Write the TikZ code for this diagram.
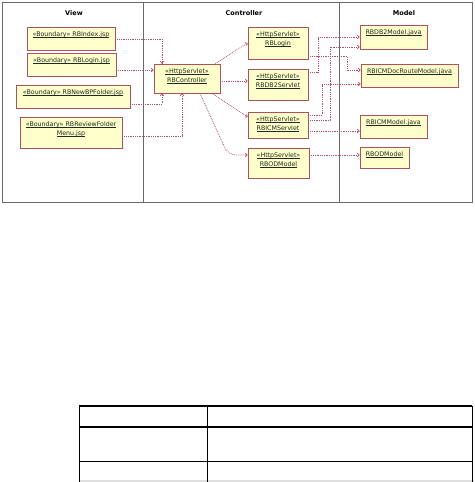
\documentclass[tikz,border=0pt]{standalone}
\usepackage{fontspec}
\setmainfont{DejaVu Sans}
\usetikzlibrary{arrows.meta}
\definecolor{boxfill}{HTML}{FFFFCC}
\definecolor{boxline}{HTML}{B0505E}
\definecolor{depline}{HTML}{B4506E}
\definecolor{umlink}{HTML}{1E2A1E}
\definecolor{frameline}{HTML}{6A6A6A}
\newcommand{\umlu}[1]{\setbox0\hbox{#1}\rlap{\raisebox{-1pt}{\rule{\wd0}{0.45pt}}}\box0}

\begin{document}
\begin{tikzpicture}[x=1pt, y=-1pt,
    umlbox/.style={draw=boxline, fill=boxfill, line width=0.8pt, inner sep=0pt,
        path picture={\fill (path picture bounding box.north west) -- ++(3pt,0) -- ++(-3pt,-3pt) -- cycle;}},
    umltext/.style={font=\fontsize{6.3}{9.5}\selectfont, text=umlink, align=center, inner sep=4.5pt},
    dep/.style={draw=depline, densely dotted, line width=0.8pt, -{To[length=2.5pt,width=4pt]}},
    header/.style={font=\fontsize{6.5}{8}\selectfont\bfseries}]
    \useasboundingbox (0,0) rectangle (474,482);

    % frame with the three swimlanes
    \draw[frameline, line width=0.9pt] (2,2) rectangle (472,202);
    \draw[frameline, line width=0.9pt] (143,2) -- (143,202); % view | controller
    \draw[frameline, line width=0.9pt] (339,2) -- (339,202); % controller | model
    \node[header] (view) at (74,13) {View};
    \node[header] (controller) at (244,13) {Controller};
    \node[header] (model) at (404,13) {Model};

    % view
    \node[umlbox, minimum width=88pt, minimum height=23pt,
        label={[umltext, anchor=north]north:{\umlu{«Boundary» RBIndex.jsp}}}] (index) at (71,38.5) {};
    \node[umlbox, minimum width=89pt, minimum height=23pt,
        label={[umltext, anchor=north]north:{\umlu{«Boundary» RBLogin.jsp}}}] (loginjsp) at (71.5,64.5) {};
    \node[umlbox, minimum width=114pt, minimum height=23pt,
        label={[umltext, anchor=north]north:{\umlu{«Boundary» RBNewBPFolder.jsp}}}] (newbp) at (73,96.5) {};
    \node[umlbox, minimum width=102pt, minimum height=31pt,
        label={[umltext, anchor=north]north:{\umlu{«Boundary» RBReviewFolder}\\\umlu{Menu.jsp}}}] (review) at (71,132.5) {};

    % controller
    \node[umlbox, minimum width=66pt, minimum height=29pt,
        label={[umltext, anchor=north]north:{\umlu{«HttpServlet»}\\\umlu{RBController}}}] (ctrl) at (187,78.5) {};
    \node[umlbox, minimum width=60pt, minimum height=32pt,
        label={[umltext, anchor=north]north:{\umlu{«HttpServlet»}\\\umlu{RBLogin}}}] (slogin) at (278,43) {};
    \node[umlbox, minimum width=60pt, minimum height=31pt,
        label={[umltext, anchor=north]north:{\umlu{«HttpServlet»}\\\umlu{RBDB2Servlet}}}] (sdb2) at (278,84.5) {};
    \node[umlbox, minimum width=60pt, minimum height=26pt,
        label={[umltext, anchor=north]north:{\umlu{«HttpServlet»}\\\umlu{RBICMServlet}}}] (sicm) at (278,125) {};
    \node[umlbox, minimum width=61pt, minimum height=30pt,
        label={[umltext, anchor=north]north:{\umlu{«HttpServlet»}\\\umlu{RBODModel}}}] (sod) at (278.5,163) {};

    % model
    \node[umlbox, minimum width=67pt, minimum height=24pt,
        label={[umltext, anchor=north]north:{\umlu{RBDB2Model.java}}}] (mdb2) at (393.5,37) {};
    \node[umlbox, minimum width=97pt, minimum height=23pt,
        label={[umltext, anchor=north]north:{\umlu{RBICMDocRouteModel.java}}}] (mdoc) at (409.5,75.5) {};
    \node[umlbox, minimum width=67pt, minimum height=23pt,
        label={[umltext, anchor=north]north:{\umlu{RBICMModel.java}}}] (micm) at (393.5,126.5) {};
    \node[umlbox, minimum width=49pt, minimum height=21pt,
        label={[umltext, anchor=north]north:{\umlu{RBODModel}}}] (mod) at (384.5,157.5) {};

    % view -> controller
    \draw[dep] (index.east |- 0,39) -| (ctrl.north -| 162,0);
    \draw[dep] (loginjsp.east |- 0,70) -- (ctrl.west |- 0,70);
    \draw[dep] (newbp.east |- 0,104) -| (ctrl.south -| 162,0);
    \draw[dep] (review.east |- 0,136) -| (ctrl.south -| 182,0);

    % controller -> servlets
    \draw[dep] ([xshift=-5pt]ctrl.north east) -- (slogin.west |- 0,43);
    \draw[dep] (ctrl.east |- 0,81) -- (sdb2.west |- 0,81);
    \draw[dep] (ctrl.south -| 212,0) -- (sicm.west |- 0,117);
    \draw[dep, rounded corners=8pt] (ctrl.south -| 200,0) -- (228,155) -- (sod.west |- 0,155);

    % servlets -> model
    \draw[dep] (sdb2.east |- 0,72) -| (318,37) -- (mdb2.west |- 0,37);
    \draw[dep] (slogin.east |- 0,56) -| (347,70) -- (mdoc.west |- 0,70);
    \draw[dep] (sicm.east |- 0,115) -| (322,84) -- (mdoc.west |- 0,84);
    \draw[dep] (sicm.east |- 0,120) -| (330,47) -- (mdb2.west |- 0,47);
    \draw[dep] (sicm.east |- 0,131) -- (micm.west |- 0,131);
    \draw[dep] (sod.east |- 0,155) -- (mod.west |- 0,155);

    % table below
    \fill[gray!25] (79,480) rectangle (474,482);
    \draw[line width=1.2pt] (79,406) -- (472,406); % top
    \draw[line width=1.2pt] (79,427) -- (472,427);
    \draw[line width=0.8pt] (79,461) -- (472,461);
    \draw[line width=0.9pt] (79,406) -- (79,482);
    \draw[line width=0.9pt] (207,406) -- (207,482);
    \draw[line width=0.9pt] (472,406) -- (472,482);
\end{tikzpicture}
\end{document}
